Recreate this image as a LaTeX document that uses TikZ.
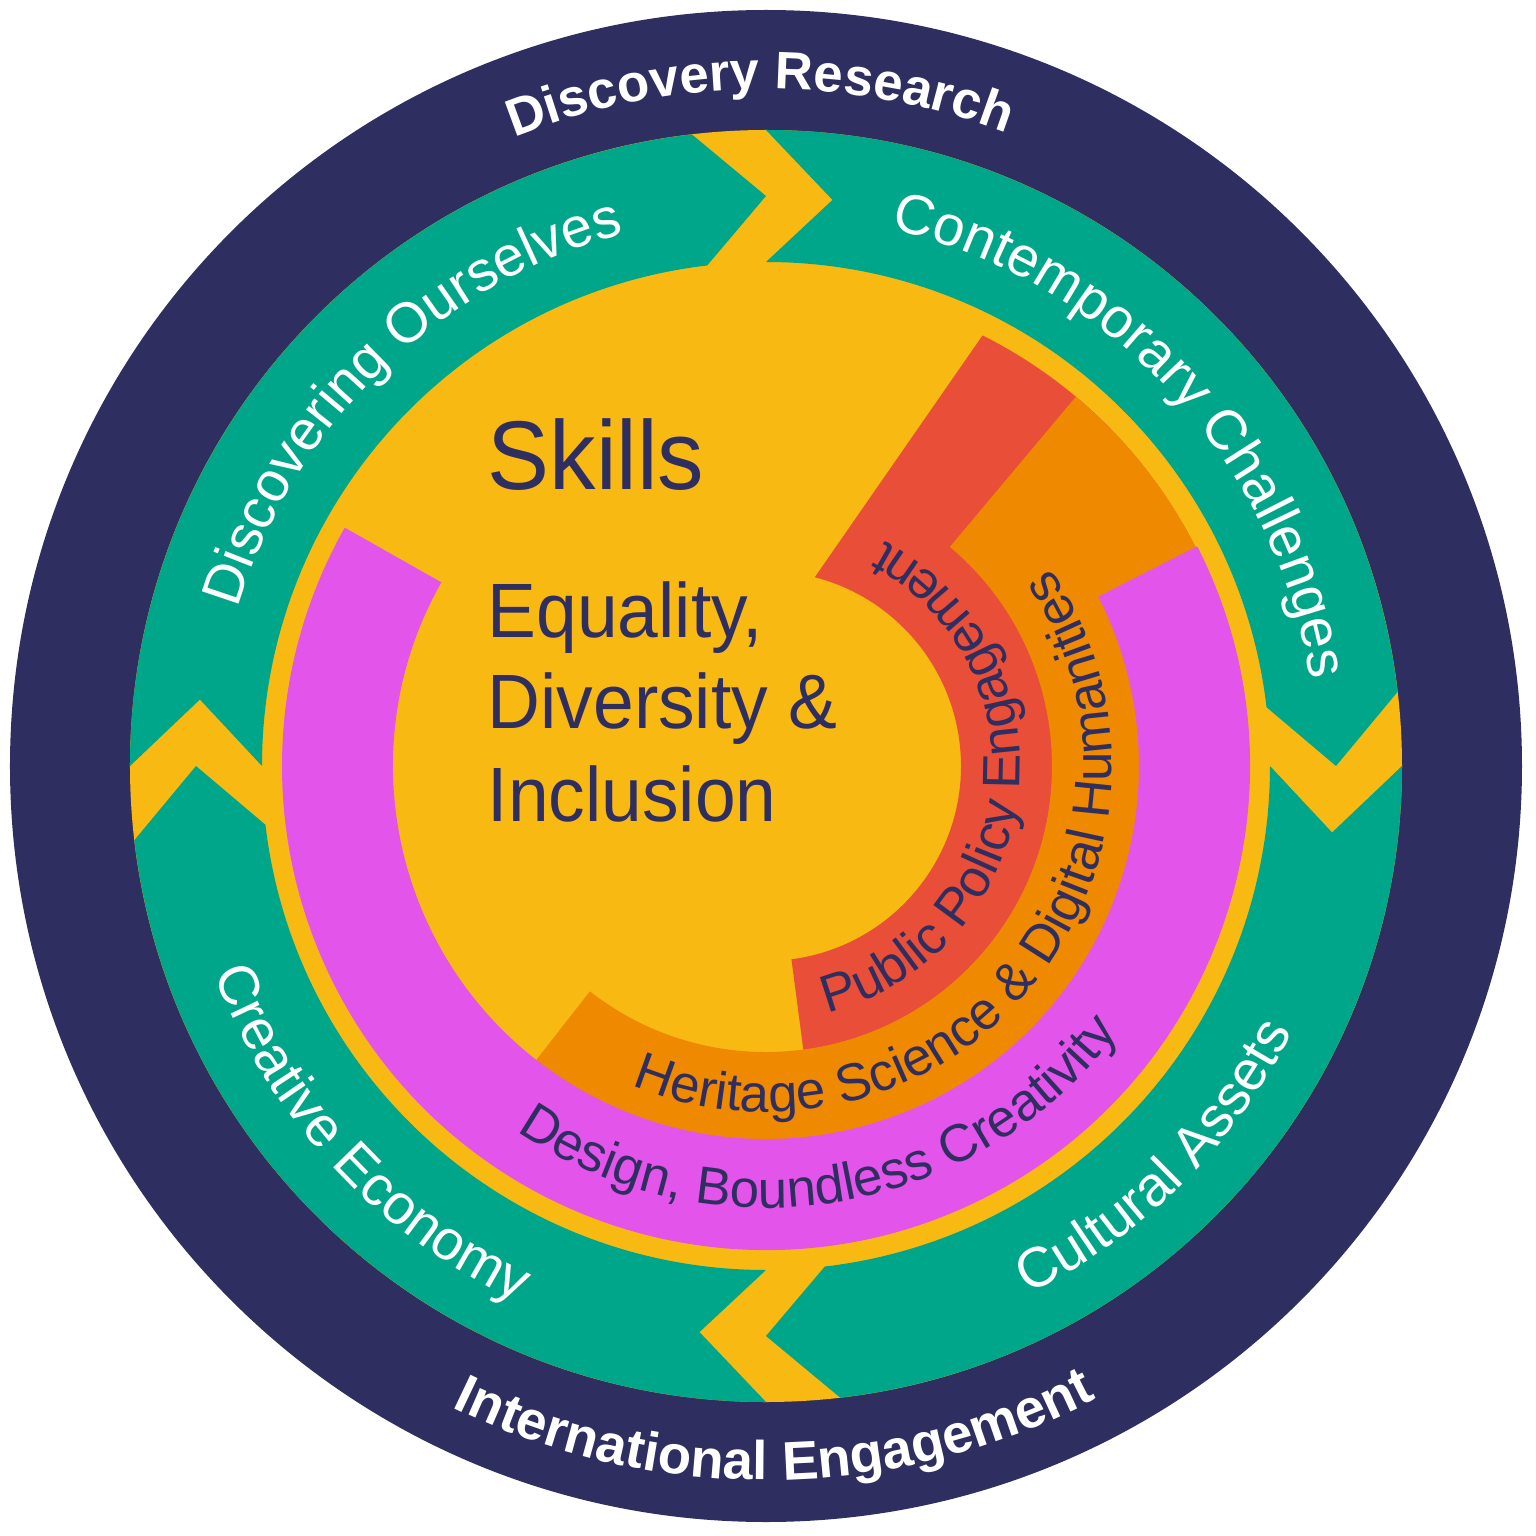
\documentclass[tikz,border=0pt]{standalone}
\usepackage{fontspec}
\setmainfont{Liberation Sans}
\newfontfamily\lightfont[FakeStretch=0.95]{Liberation Sans}
\usepackage{tikz}
\usetikzlibrary{decorations.text}

\definecolor{ringnavy}{RGB}{46,46,96}
\definecolor{ringgreen}{RGB}{0,166,138}
\definecolor{ringyellow}{RGB}{249,185,19}
\definecolor{bandpink}{RGB}{226,84,234}
\definecolor{bandorange}{RGB}{238,137,0}
\definecolor{bandred}{RGB}{232,78,56}

\newcommand{\outerfont}{\fontsize{15pt}{18pt}\selectfont\bfseries}
\newcommand{\lowerfont}{\fontsize{15.5pt}{18pt}\selectfont\bfseries}
\newcommand{\ringfont}{\fontsize{16pt}{19pt}\selectfont}
\newcommand{\bandfont}{\fontsize{15pt}{18pt}\selectfont}

\tikzset{
  ringtext/.style={decorate, decoration={text along path, text align=center, text color=white, text={#1}}},
  bandtext/.style={decorate, decoration={text along path, text align=center, text color=ringnavy, text={#1}}},
  centretext/.style={anchor=base west, inner sep=0pt, text=ringnavy},
}

\begin{document}
\begin{tikzpicture}[x=0.01cm, y=0.01cm]
\useasboundingbox (-766,-770) rectangle (770,766);
\fill[white] (-766,-770) rectangle (770,766);

% outer rings
\fill[ringnavy] (0,0) circle[radius=756];
\fill[ringyellow] (0,0) circle[radius=636];
\foreach \s in {180,90,0,-90}{
  \pgfmathsetmacro\segend{\s-90}
  \pgfmathsetmacro\segbase{\s-83.3}
  \pgfmathsetmacro\segnotch{\s-6.7}
  \fill[ringgreen] (\s:636) arc[start angle=\s, end angle=\segbase, radius=636]
    -- (\segend:570) -- (\segbase:504) arc[start angle=\segbase, end angle=\s, radius=504]
    -- (\segnotch:570) -- cycle;
}

% inner bands
\fill[bandred] (277.5:195) arc[start angle=277.5, end angle=435.5, radius=195]
  -- (423.3:482) arc[start angle=423.3, end angle=277.5, radius=482] -- cycle;
\fill[bandorange] (232:286) arc[start angle=232, end angle=410, radius=286]
  -- (410:482) arc[start angle=410, end angle=232, radius=482] -- cycle;
\fill[bandpink] (150.5:373) arc[start angle=150.5, end angle=387, radius=373]
  -- (387:484) arc[start angle=387, end angle=150.5, radius=484] -- cycle;

% ring labels
\path[ringtext={|\outerfont|Discovery Research}] (125:677) arc[start angle=125, end angle=56, radius=677];
\path[ringtext={|\lowerfont|International Engagement}] (225:714) arc[start angle=225, end angle=316.5, radius=714];
\path[ringtext={|\ringfont|Discovering Ourselves}] (179.2:551) arc[start angle=179.2, end angle=89.2, radius=551];
\path[ringtext={|\ringfont|Contemporary Challenges}] (88:551) arc[start angle=88, end angle=-2, radius=551];
\path[ringtext={|\ringfont|Cultural Assets}] (280:590) arc[start angle=280, end angle=349.6, radius=590];
\path[ringtext={|\ringfont|Creative Economy}] (185:590) arc[start angle=185, end angle=260.8, radius=590];

% band labels
\path[bandtext={|\bandfont|Design, Boundless Creativity}] (225:442) arc[start angle=225, end angle=333.6, radius=442];
\path[bandtext={|\bandfont|Heritage Science {\&} Digital Humanities}] (236:346) arc[start angle=236, end angle=406, radius=346];
\path[bandtext={|\bandfont|Public Policy Engagement}] (273:254) arc[start angle=273, end angle=433.2, radius=254];

% centre
\node[centretext, font={\lightfont\fontsize{27.8pt}{30pt}\selectfont}] (skills) at (-279,276) {Skills};
\node[centretext, font={\lightfont\fontsize{21.9pt}{26pt}\selectfont}] (equality) at (-279,129) {Equality,};
\node[centretext, font={\lightfont\fontsize{21.9pt}{26pt}\selectfont}] (diversity) at (-279,38) {Diversity \&};
\node[centretext, font={\lightfont\fontsize{21.9pt}{26pt}\selectfont}] (inclusion) at (-279,-55) {Inclusion};
\end{tikzpicture}
\end{document}
